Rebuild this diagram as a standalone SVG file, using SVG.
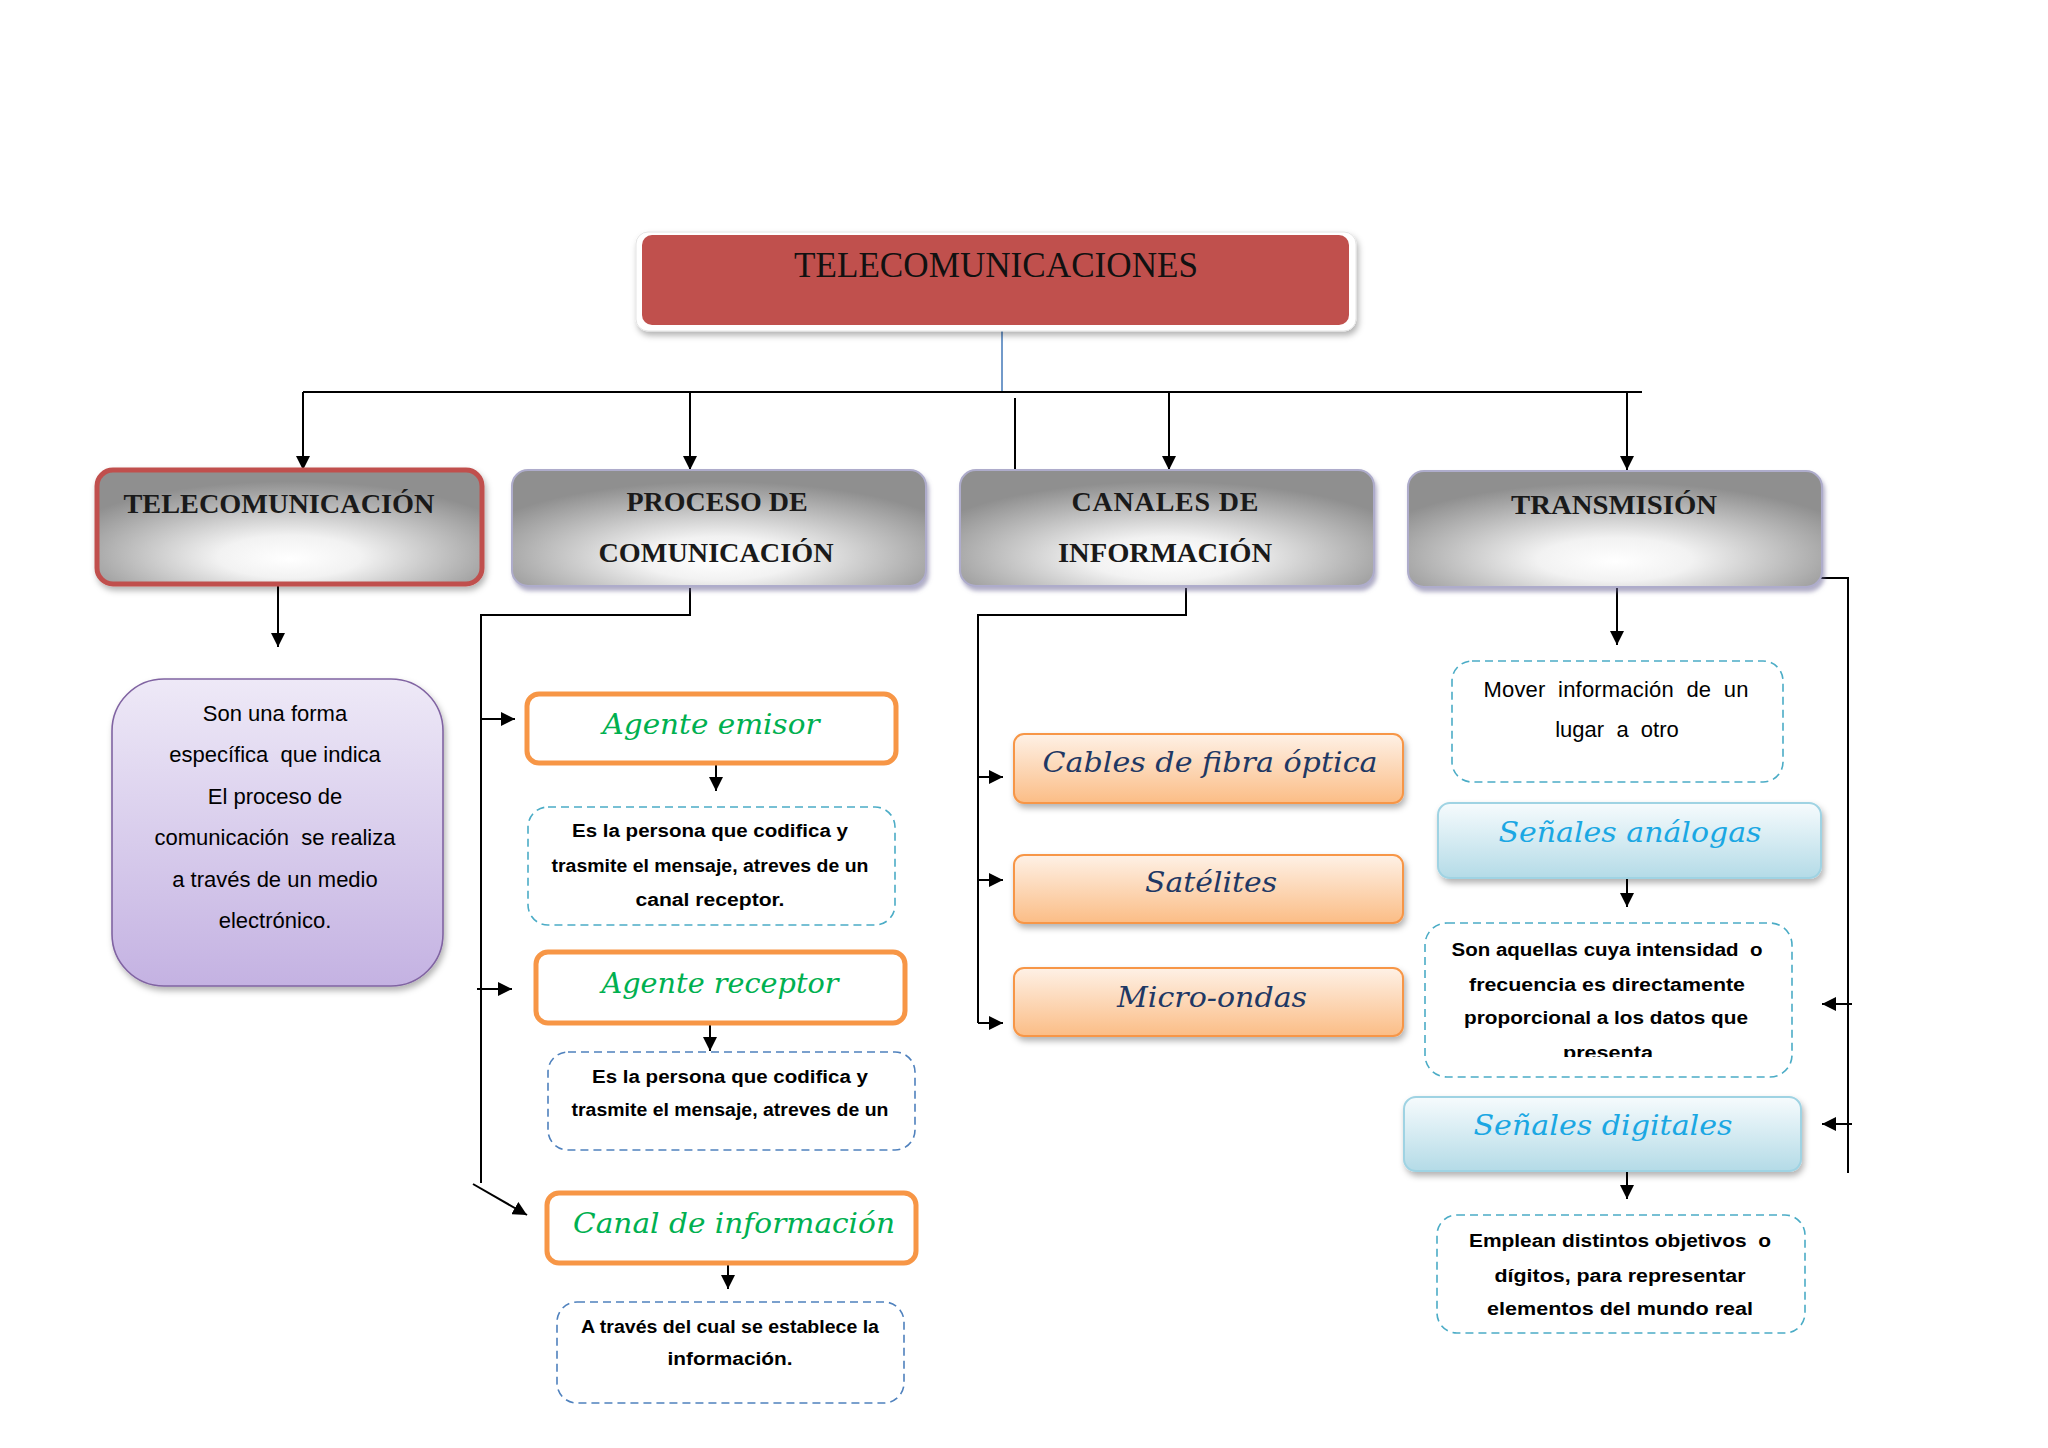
<svg xmlns="http://www.w3.org/2000/svg" width="2048" height="1448" viewBox="0 0 2048 1448">
<defs>
<style>
.ser{font-family:"Liberation Serif","Times New Roman",serif;font-weight:bold;font-size:28px;fill:#1a1a1a;text-anchor:middle}
.sans{font-family:"Liberation Sans",Arial,sans-serif;font-size:22px;fill:#000;text-anchor:middle}
.bsans{font-family:"Liberation Sans",Arial,sans-serif;font-size:18px;font-weight:bold;fill:#000;text-anchor:middle}
.cur{font-family:"DejaVu Serif",serif;font-style:italic;font-size:27px;text-anchor:middle}
.green{fill:#00b050}
.navy{fill:#1f3864}
.cyan{fill:#1aa7e3}
.gray{fill:url(#grayGrad);stroke:#aeaccb;stroke-width:2;filter:url(#shGray)}
.dash{fill:#fff;stroke:#4bacc6;stroke-width:1.6;stroke-dasharray:8 5}
.dashb{fill:#fff;stroke:#4f81bd;stroke-width:1.6;stroke-dasharray:8 5}
.orbox{fill:#fff;stroke:#f79646;stroke-width:5}
.orgrad{fill:url(#orGrad);stroke:#f79646;stroke-width:2;filter:url(#sh)}
.blgrad{fill:url(#blGrad);stroke:#9fd3e3;stroke-width:2;filter:url(#sh)}
.ln{fill:none;stroke:#000;stroke-width:2}
.arr{fill:none;stroke:#000;stroke-width:2;marker-end:url(#ah)}
</style>
<radialGradient id="grayGrad" cx="50%" cy="72%" r="62%" fx="50%" fy="78%">
<stop offset="0" stop-color="#ffffff"/>
<stop offset="0.3" stop-color="#f2f2f2"/>
<stop offset="1" stop-color="#8f8f8f"/>
</radialGradient>
<linearGradient id="purGrad" x1="0" y1="0" x2="0" y2="1">
<stop offset="0" stop-color="#eee9f7"/>
<stop offset="1" stop-color="#c4b2e2"/>
</linearGradient>
<linearGradient id="orGrad" x1="0" y1="0" x2="0" y2="1">
<stop offset="0" stop-color="#fef1e6"/>
<stop offset="1" stop-color="#fbbd86"/>
</linearGradient>
<linearGradient id="blGrad" x1="0" y1="0" x2="0" y2="1">
<stop offset="0" stop-color="#f6fbfd"/>
<stop offset="1" stop-color="#b4dbe7"/>
</linearGradient>
<filter id="sh" x="-10%" y="-20%" width="120%" height="150%">
<feDropShadow dx="2" dy="4" stdDeviation="3" flood-color="#000" flood-opacity="0.3"/>
</filter>
<filter id="shGray" x="-10%" y="-20%" width="120%" height="150%">
<feDropShadow dx="2" dy="4" stdDeviation="2" flood-color="#6e6a99" flood-opacity="0.55"/>
</filter>
<marker id="ah" viewBox="0 0 10 10" refX="10" refY="5" markerWidth="14" markerHeight="14" markerUnits="userSpaceOnUse" orient="auto">
<path d="M0,0 L10,5 L0,10 z" fill="#000"/>
</marker>
<clipPath id="clipPres"><rect x="1430" y="1030" width="360" height="27"/></clipPath>
</defs>
<rect width="2048" height="1448" fill="#ffffff"/>

<g id="connectors">
<path d="M1002,328 V392" fill="none" stroke="#4f81bd" stroke-width="1.6"/>
<path class="ln" d="M303,392 H1642"/>
<path class="arr" d="M303,392 V470"/>
<path class="arr" d="M690,392 V470"/>
<path class="arr" d="M1169,392 V470"/>
<path class="arr" d="M1627,392 V470"/>
<path class="ln" d="M1015,398 V469"/>
<path class="arr" d="M278,584 V647"/>
<path class="ln" d="M690,588 V615 H481 V1183"/>
<path class="arr" d="M481,719 H515"/>
<path class="arr" d="M477,989 H512"/>
<path class="arr" d="M473,1184 L527,1215"/>
<path class="arr" d="M716,764 V791"/>
<path class="arr" d="M710,1023 V1051"/>
<path class="arr" d="M728,1263 V1289"/>
<path class="ln" d="M1186,588 V615 H978 V1023"/>
<path class="arr" d="M978,777 H1003"/>
<path class="arr" d="M978,880 H1003"/>
<path class="arr" d="M978,1023 H1003"/>
<path class="arr" d="M1617,588 V645"/>
<path class="ln" d="M1816,578 H1848 V1173"/>
<path class="arr" d="M1852,1004 H1822"/>
<path class="arr" d="M1852,1124 H1822"/>
<path class="arr" d="M1627,878 V907"/>
<path class="arr" d="M1627,1170 V1199"/>
</g>

<g id="telecomunicaciones">
<rect x="636" y="232" width="720" height="99" rx="12" fill="#fff" stroke="#e4e4e4" stroke-width="1" filter="url(#sh)"/>
<rect x="642" y="235" width="707" height="90" rx="10" fill="#c0504d"/>
<text x="996" y="277" font-family="'Liberation Serif','Times New Roman',serif" font-size="35.5" fill="#111" text-anchor="middle" textLength="404" lengthAdjust="spacingAndGlyphs">TELECOMUNICACIONES</text>
</g>

<g id="telecomunicacion">
<rect x="97" y="470" width="385" height="114" rx="16" fill="url(#grayGrad)" stroke="#c0504d" stroke-width="5" filter="url(#sh)"/>
<text class="ser" x="279" y="513" textLength="311" lengthAdjust="spacingAndGlyphs">TELECOMUNICACIÓN</text>
</g>

<g id="proceso">
<rect class="gray" x="512" y="470" width="414" height="116" rx="16"/>
<text class="ser" x="717" y="511">PROCESO DE</text>
<text class="ser" x="716" y="562" textLength="235" lengthAdjust="spacingAndGlyphs">COMUNICACIÓN</text>
</g>

<g id="canales">
<rect class="gray" x="960" y="470" width="414" height="116" rx="16"/>
<text class="ser" x="1165" y="511" textLength="187" lengthAdjust="spacing">CANALES  DE</text>
<text class="ser" x="1165" y="562" textLength="214" lengthAdjust="spacingAndGlyphs">INFORMACIÓN</text>
</g>

<g id="transmision">
<rect class="gray" x="1408" y="471" width="414" height="116" rx="16"/>
<text class="ser" x="1614" y="514" textLength="206" lengthAdjust="spacingAndGlyphs">TRANSMISIÓN</text>
</g>

<g id="definicion">
<rect x="112" y="679" width="331" height="307" rx="52" fill="url(#purGrad)" stroke="#8064a2" stroke-width="1.6" filter="url(#sh)"/>
<text class="sans" x="275" y="721">Son una forma</text>
<text class="sans" x="275" y="762" xml:space="preserve">específica  que indica</text>
<text class="sans" x="275" y="804">El proceso de</text>
<text class="sans" x="275" y="845" xml:space="preserve">comunicación  se realiza</text>
<text class="sans" x="275" y="887">a través de un medio</text>
<text class="sans" x="275" y="928">electrónico.</text>
</g>

<g id="agente-emisor">
<rect class="orbox" x="527" y="694" width="369" height="69" rx="12"/>
<text class="cur green" x="711" y="734" textLength="217" lengthAdjust="spacingAndGlyphs">Agente emisor</text>
</g>

<g id="emisor-desc">
<rect class="dash" x="528" y="807" width="367" height="118" rx="20"/>
<text class="bsans" x="710" y="837" textLength="276" lengthAdjust="spacingAndGlyphs">Es la persona que codifica y</text>
<text class="bsans" x="710" y="872" textLength="317" lengthAdjust="spacingAndGlyphs">trasmite el mensaje, atreves de un</text>
<text class="bsans" x="710" y="906" textLength="149" lengthAdjust="spacingAndGlyphs">canal receptor.</text>
</g>

<g id="agente-receptor">
<rect class="orbox" x="536" y="952" width="369" height="71" rx="12"/>
<text class="cur green" x="720" y="993" textLength="237" lengthAdjust="spacingAndGlyphs">Agente receptor</text>
</g>

<g id="receptor-desc">
<rect class="dashb" x="548" y="1052" width="367" height="98" rx="20"/>
<text class="bsans" x="730" y="1083" textLength="276" lengthAdjust="spacingAndGlyphs">Es la persona que codifica y</text>
<text class="bsans" x="730" y="1116" textLength="317" lengthAdjust="spacingAndGlyphs">trasmite el mensaje, atreves de un</text>
</g>

<g id="canal-informacion">
<rect class="orbox" x="547" y="1193" width="369" height="70" rx="12"/>
<text class="cur green" x="734" y="1233" textLength="322" lengthAdjust="spacingAndGlyphs">Canal de información</text>
</g>

<g id="canal-desc">
<rect class="dashb" x="557" y="1302" width="347" height="101" rx="20"/>
<text class="bsans" x="730" y="1333" textLength="298" lengthAdjust="spacingAndGlyphs">A través del cual se establece la</text>
<text class="bsans" x="730" y="1365" textLength="125" lengthAdjust="spacingAndGlyphs">información.</text>
</g>

<g id="cables">
<rect class="orgrad" x="1014" y="734" width="389" height="69" rx="10"/>
<text class="cur navy" x="1210" y="772" textLength="335" lengthAdjust="spacingAndGlyphs">Cables de fibra óptica</text>
</g>

<g id="satelites">
<rect class="orgrad" x="1014" y="855" width="389" height="68" rx="10"/>
<text class="cur navy" x="1211" y="892" textLength="132" lengthAdjust="spacingAndGlyphs">Satélites</text>
</g>

<g id="microondas">
<rect class="orgrad" x="1014" y="968" width="389" height="68" rx="10"/>
<text class="cur navy" x="1212" y="1007" textLength="190" lengthAdjust="spacingAndGlyphs">Micro-ondas</text>
</g>

<g id="transmision-desc">
<rect class="dash" x="1452" y="661" width="331" height="121" rx="20"/>
<text class="sans" x="1616" y="697" textLength="265" lengthAdjust="spacing" xml:space="preserve">Mover  información  de  un</text>
<text class="sans" x="1617" y="737" xml:space="preserve">lugar  a  otro</text>
</g>

<g id="senales-analogas">
<rect class="blgrad" x="1438" y="803" width="383" height="75" rx="12"/>
<text class="cur cyan" x="1630" y="842" textLength="263" lengthAdjust="spacingAndGlyphs">Señales análogas</text>
</g>

<g id="analogas-desc">
<rect class="dash" x="1425" y="923" width="367" height="154" rx="22"/>
<text class="bsans" x="1607" y="956" textLength="311" lengthAdjust="spacingAndGlyphs" xml:space="preserve">Son aquellas cuya intensidad  o</text>
<text class="bsans" x="1607" y="991" textLength="276" lengthAdjust="spacingAndGlyphs">frecuencia es directamente</text>
<text class="bsans" x="1606" y="1024" textLength="284" lengthAdjust="spacingAndGlyphs">proporcional a los datos que</text>
<text class="bsans" x="1608" y="1059" textLength="90" lengthAdjust="spacingAndGlyphs" clip-path="url(#clipPres)">presenta</text>
</g>

<g id="senales-digitales">
<rect class="blgrad" x="1404" y="1097" width="397" height="74" rx="12"/>
<text class="cur cyan" x="1603" y="1135" textLength="259" lengthAdjust="spacingAndGlyphs">Señales digitales</text>
</g>

<g id="digitales-desc">
<rect class="dash" x="1437" y="1215" width="368" height="118" rx="20"/>
<text class="bsans" x="1620" y="1247" textLength="302" lengthAdjust="spacingAndGlyphs" xml:space="preserve">Emplean distintos objetivos  o</text>
<text class="bsans" x="1620" y="1282" textLength="251" lengthAdjust="spacingAndGlyphs">dígitos, para representar</text>
<text class="bsans" x="1620" y="1315" textLength="266" lengthAdjust="spacingAndGlyphs">elementos del mundo real</text>
</g>
</svg>
